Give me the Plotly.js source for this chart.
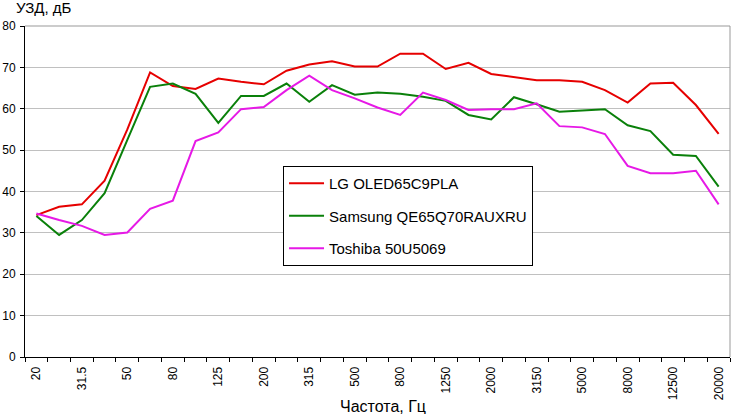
<!DOCTYPE html>
<html>
<head>
<meta charset="utf-8">
<script src="https://cdn.plot.ly/plotly-3.0.1.min.js"></script>
<style>html,body{margin:0;padding:0;background:#fff;}#chart{width:731px;height:414px;}</style>
</head>
<body>
<div id="chart"></div>
<script>
var freqs = ["20","25","31.5","40","50","63","80","100","125","160","200","250","315","400","500","630","800","1000","1250","1600","2000","2500","3150","4000","5000","6300","8000","10000","12500","16000","20000"];
var lgValues = [34.3,36.3,36.9,42.6,55.0,68.8,65.5,64.8,67.3,66.5,65.9,69.2,70.7,71.5,70.2,70.2,73.3,73.3,69.6,71.1,68.4,67.6,66.9,66.9,66.5,64.5,61.5,66.1,66.3,60.9,53.9];
var samsungValues = [34.1,29.5,33.1,39.6,52.5,65.3,66.1,63.6,56.6,63.1,63.1,66.1,61.7,65.7,63.4,63.9,63.6,62.9,61.9,58.5,57.4,62.8,61.1,59.3,59.6,59.9,56.0,54.6,48.9,48.6,41.2];
var toshibaValues = [34.7,33.1,31.7,29.5,30.1,35.8,37.8,52.2,54.3,59.9,60.4,64.5,68.0,64.5,62.5,60.3,58.5,63.9,62.1,59.7,59.9,59.9,61.3,55.8,55.5,53.9,46.2,44.4,44.4,45.0,36.9];
var seriesNames = ["LG OLED65C9PLA","Samsung QE65Q70RAUXRU","Toshiba 50U5069"];
var tickLabels = freqs.map(function(f,i){return i%2===0?f:"";});
var yTicks = [0,10,20,30,40,50,60,70,80];

var colors = ["#e60000","#0a800a","#e619e6"];
var vals = [lgValues, samsungValues, toshibaValues];
var traces = vals.map(function(v,k){
  return {x:freqs, y:v, type:"scatter", mode:"lines", name:seriesNames[k],
    legendgroup:"g"+k, line:{color:colors[k], width:2}, hoverinfo:"none"};
});

var font = "Liberation Sans, Arial, sans-serif";
var layout = {
  width:731, height:414,
  margin:{l:25, r:1, t:26, b:57, pad:0},
  paper_bgcolor:"#fff", plot_bgcolor:"#fff",
  font:{family:font, size:12, color:"#000"},
  showlegend:true,
  legend:{x:0.366, y:0.577, xanchor:"left", yanchor:"top", bgcolor:"#fff",
    bordercolor:"#000", borderwidth:1, font:{size:15, family:font, color:"#000"},
    traceorder:"grouped", tracegroupgap:10, itemwidth:35},
  xaxis:{type:"category", categoryorder:"array", categoryarray:freqs, range:[-0.5,30.5],
    tickmode:"array", tickvals:freqs, ticktext:tickLabels, tickson:"boundaries",
    ticks:"outside", ticklen:4, tickcolor:"#000", tickangle:-90, showgrid:false,
    showline:true, linecolor:"#000", linewidth:1, zeroline:false, mirror:false,
    ticklabelstandoff:4,
    tickfont:{size:12, family:font, color:"#000"}},
  yaxis:{range:[0,80], tickmode:"array", tickvals:yTicks, ticks:"outside", ticklen:4,
    tickcolor:"#000", showgrid:true, gridcolor:"#c0c0c0", gridwidth:1, zeroline:false,
    showline:true, linecolor:"#000", linewidth:1, ticklabelstandoff:2,
    tickfont:{size:12, family:font, color:"#000"}},
  shapes:[
    {type:"line", xref:"paper", yref:"paper", x0:0, x1:1, y0:1, y1:1, line:{color:"#999", width:1}},
    {type:"line", xref:"paper", yref:"paper", x0:1, x1:1, y0:0, y1:1, line:{color:"#999", width:1}}
  ],
  annotations:[
    {text:"УЗД, дБ", xref:"paper", yref:"paper", x:-0.015, y:1.056, xanchor:"left", yanchor:"middle",
      showarrow:false, font:{size:15, family:font, color:"#000"}},
    {text:"Частота, Гц", xref:"paper", yref:"paper", x:0.508, y:-0.151, xanchor:"center", yanchor:"middle",
      showarrow:false, font:{size:16, family:font, color:"#000"}}
  ]
};
Plotly.newPlot("chart", traces, layout, {staticPlot:true, displayModeBar:false});
</script>
</body>
</html>
